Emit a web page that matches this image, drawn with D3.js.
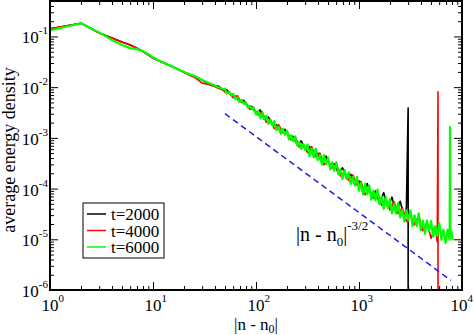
<!DOCTYPE html>
<html><head><meta charset="utf-8">
<script src="https://cdn.jsdelivr.net/npm/d3@7"></script>
<style>
body{margin:0;background:#fff}
svg{display:block}
</style>
</head><body>
<svg id="c" width="474" height="335"></svg>
<script>
// ---- data (values stored as log10 of average energy density) ----
const earlyN = [1,2,3,4,5,6,7,8,9,10,11,12,14,16,18,20,23,26,30,34,38,43,48];
const blackEarlyLog = [-0.85,-0.74,-0.93,-1.03,-1.11,-1.17,-1.23,-1.30,-1.36,-1.42,-1.46,-1.50,-1.56,-1.61,-1.66,-1.70,-1.76,-1.80,-1.86,-1.93,-1.97,-1.98,-2.05];
const redEarlyLog   = [-0.85,-0.74,-0.93,-1.03,-1.11,-1.17,-1.23,-1.30,-1.37,-1.43,-1.47,-1.50,-1.56,-1.61,-1.66,-1.71,-1.77,-1.82,-1.92,-1.94,-1.97,-2.02,-2.06];
const greenEarlyLog = [-0.88,-0.74,-0.92,-1.07,-1.17,-1.23,-1.25,-1.29,-1.35,-1.41,-1.46,-1.50,-1.56,-1.61,-1.66,-1.70,-1.75,-1.79,-1.86,-1.91,-1.95,-2.00,-2.04];

const blackTailN = [52,58,63,69,76,83,91,100,110,120,132,145,158,174,191,209,229,251,275,302,331,363,398,437,479,525,575,631,692,759,832,912,1000,1096,1202,1318,1445,1585,1738,1905,2089,2291,2512,2754,2884,3000,3001];
const blackTailLog = [-2.05,-2.17,-2.18,-2.29,-2.26,-2.38,-2.38,-2.52,-2.45,-2.63,-2.59,-2.75,-2.74,-2.90,-2.83,-2.99,-2.97,-3.13,-3.06,-3.24,-3.17,-3.36,-3.30,-3.49,-3.36,-3.55,-3.51,-3.70,-3.59,-3.80,-3.72,-3.92,-3.85,-4.07,-3.90,-4.14,-4.05,-4.29,-4.08,-4.37,-4.17,-4.48,-4.25,-4.56,-4.38,-2.41,-9];

const redTailN = [50,55,60,66,72,79,87,95,105,115,126,138,151,166,182,200,219,240,263,288,316,347,380,417,457,501,550,603,661,724,794,871,955,1047,1148,1259,1380,1514,1660,1820,1995,2188,2399,2630,2884,3162,3467,3802,4169,4571,5012,5495,5754,5850,5851];
const redTailLog = [-2.10,-2.09,-2.21,-2.17,-2.30,-2.29,-2.44,-2.42,-2.55,-2.49,-2.69,-2.64,-2.82,-2.74,-2.90,-2.87,-3.04,-2.98,-3.18,-3.13,-3.29,-3.17,-3.37,-3.30,-3.53,-3.44,-3.60,-3.51,-3.75,-3.67,-3.84,-3.73,-3.93,-3.86,-4.12,-4.02,-4.19,-4.06,-4.33,-4.20,-4.42,-4.26,-4.49,-4.38,-4.65,-4.52,-4.71,-4.53,-4.83,-4.66,-4.98,-4.75,-5.05,-2.09,-9];

const greenTailN = [50,52,55,58,60,63,66,69,72,76,79,83,87,91,95,
  100,105,110,115,120,126,132,138,145,151,158,166,174,182,191,200,209,219,229,240,251,263,275,288,302,
  316,331,347,363,380,398,417,437,457,479,501,525,550,575,603,631,661,692,724,759,794,832,871,912,955,
  1000,1047,1096,1148,1202,1259,1318,1380,1445,1514,1585,1660,1738,1820,1905,1995,2089,2188,2291,2399,2512,2630,2754,2884,3020,
  3162,3311,3467,3631,3802,3981,4169,4365,4571,4786,5012,5248,5495,5754,6026,6310,6607,6918,7244,7586,7650,7680,7900,8100];
const greenTailLog = [-2.03,-2.13,-2.10,-2.16,-2.13,-2.23,-2.20,-2.29,-2.25,-2.33,-2.30,-2.40,-2.37,-2.43,-2.40,
  -2.54,-2.47,-2.61,-2.51,-2.63,-2.56,-2.72,-2.64,-2.76,-2.67,-2.85,-2.78,-2.92,-2.82,-2.94,-2.86,-3.03,-2.95,-3.07,-2.97,-3.15,-3.08,-3.22,-3.12,-3.24,
  -3.13,-3.36,-3.21,-3.38,-3.21,-3.44,-3.34,-3.53,-3.34,-3.52,-3.39,-3.62,-3.48,-3.65,-3.48,-3.72,-3.62,-3.81,-3.63,-3.81,-3.68,-3.91,-3.77,-3.94,-3.77,
  -4.04,-3.89,-4.12,-3.90,-4.11,-3.94,-4.22,-4.04,-4.23,-4.02,-4.31,-4.16,-4.40,-4.17,-4.38,-4.21,-4.49,-4.31,-4.49,-4.28,-4.57,-4.42,-4.65,-4.43,-4.63,
  -4.43,-4.74,-4.53,-4.74,-4.49,-4.82,-4.63,-4.89,-4.63,-4.84,-4.64,-4.95,-4.74,-4.93,-4.68,-5.01,-4.81,-5.07,-4.81,-5.01,-2.79,-4.95,-4.86,-5.02];

// reference power law |n-n0|^-3/2 (end points)
const refN = [50, 7800];
const refVal = [3.0e-3, 1.55e-6];

const seriesNames = ["t=2000","t=4000","t=6000"];
const seriesColors = ["#000000","#ff0000","#00ff00"];

const xMajorTicks = [1,10,100,1000,10000];
const xMajorExp = ["0","1","2","3","4"];
const yMajorTicks = [1e-6,1e-5,1e-4,1e-3,1e-2,1e-1];
const yMajorExp = ["-6","-5","-4","-3","-2","-1"];

// ---- layout ----
const FONT = '"Liberation Serif"';
const L=50, R=462, T=1, B=290;
const svg = d3.select("#c");
const x = d3.scaleLog().domain([1,1e4]).range([L,R]);
const y = d3.scaleLog().domain([1e-6,0.5]).range([B,T]);

const xMinor=[]; [1,10,100,1000].forEach(d=>{for(let k=2;k<=9;k++) xMinor.push(k*d);});
const yMinor=[]; [1e-6,1e-5,1e-4,1e-3,1e-2].forEach(d=>{for(let k=2;k<=9;k++) yMinor.push(k*d);});
[0.2,0.3,0.4].forEach(v=>yMinor.push(v));

function axis(gen, tr, vals, size){
  svg.append("g").attr("transform",tr)
    .call(gen.tickValues(vals).tickSizeInner(size).tickSizeOuter(0).tickFormat(""))
    .call(g=>g.select(".domain").remove())
    .call(g=>g.selectAll("line").attr("stroke","#000").attr("stroke-width",1));
}
axis(d3.axisBottom(x), `translate(0,${B})`, xMajorTicks, -8);
axis(d3.axisBottom(x), `translate(0,${B})`, xMinor, -4);
axis(d3.axisTop(x), `translate(0,${T})`, xMajorTicks, -8);
axis(d3.axisTop(x), `translate(0,${T})`, xMinor, -4);
axis(d3.axisLeft(y), `translate(${L},0)`, yMajorTicks, -8);
axis(d3.axisLeft(y), `translate(${L},0)`, yMinor, -4);
axis(d3.axisRight(y), `translate(${R},0)`, yMajorTicks, -8);
axis(d3.axisRight(y), `translate(${R},0)`, yMinor, -4);

// clip
svg.append("clipPath").attr("id","clip").append("rect")
  .attr("x",L).attr("y",T).attr("width",R-L).attr("height",B-T);
const plot = svg.append("g").attr("clip-path","url(#clip)");

const line = d3.line().x(d=>x(d[0])).y(d=>y(d[1]));
function build(nA, lA){ return nA.map((n,i)=>[n, Math.pow(10,lA[i])]); }
const seriesData = [
  build(earlyN.concat(blackTailN), blackEarlyLog.concat(blackTailLog)),
  build(earlyN.concat(redTailN), redEarlyLog.concat(redTailLog)),
  build(earlyN.concat(greenTailN), greenEarlyLog.concat(greenTailLog))
];
const widths = [1.6,1.6,2.2];
seriesData.forEach((d,i)=>{
  plot.append("path").datum(d).attr("d",line)
    .attr("fill","none").attr("stroke",seriesColors[i]).attr("stroke-width",widths[i])
    .attr("stroke-linejoin","round");
});
plot.append("path").datum(refN.map((n,i)=>[n,refVal[i]])).attr("d",line)
  .attr("fill","none").attr("stroke","#1a1ae6").attr("stroke-width",1.5)
  .attr("stroke-dasharray","6,4");

// frame
svg.append("rect").attr("x",L).attr("y",T).attr("width",R-L).attr("height",B-T)
  .attr("fill","none").attr("stroke","#000").attr("stroke-width",2);

function txt(sel){ return sel.append("text").style("font-family",FONT).attr("fill","#000"); }

// tick labels
xMajorTicks.forEach((v,i)=>{
  const px = i===4 ? x(v)-3 : x(v);
  txt(svg).attr("x",px).attr("y",311).attr("text-anchor","middle")
    .attr("font-size",17).text("10");
  txt(svg).attr("x",px+8.5).attr("y",302).attr("font-size",11).text(xMajorExp[i]);
});
yMajorTicks.forEach((v,i)=>{
  const py=y(v);
  const t = txt(svg).attr("x",48).attr("y",py+7).attr("text-anchor","end").attr("font-size",17);
  t.append("tspan").text("10");
  t.append("tspan").attr("font-size",11).attr("dy",-9).text(yMajorExp[i]);
});

// axis titles
const xt = txt(svg).attr("x",256).attr("y",330).attr("text-anchor","middle").attr("font-size",17);
xt.append("tspan").text("|n - n");
xt.append("tspan").attr("font-size",12).attr("dy",3).text("0");
xt.append("tspan").attr("dy",-3).text("|");

txt(svg).attr("transform","translate(15,150) rotate(-90)")
  .attr("text-anchor","middle").attr("font-size",18).text("average energy density");

// annotation
const an = txt(svg).attr("x",296).attr("y",241).attr("font-size",20);
an.append("tspan").text("|n - n");
an.append("tspan").attr("font-size",13).attr("dy",5).text("0");
an.append("tspan").attr("dy",-5).text("|");
an.append("tspan").attr("font-size",13).attr("dy",-11).text("-3/2");

// legend
const lg = svg.append("g");
lg.append("rect").attr("x",83).attr("y",203).attr("width",81).attr("height",55)
  .attr("fill","#fff").attr("stroke","#000").attr("stroke-width",1);
seriesNames.forEach((s,i)=>{
  const ly = 214 + i*16.5;
  lg.append("line").attr("x1",87).attr("x2",106).attr("y1",ly).attr("y2",ly)
    .attr("stroke",seriesColors[i]).attr("stroke-width",1.5);
  txt(lg).attr("x",111).attr("y",ly+6).attr("font-size",17).text(s);
});
</script>
</body></html>
